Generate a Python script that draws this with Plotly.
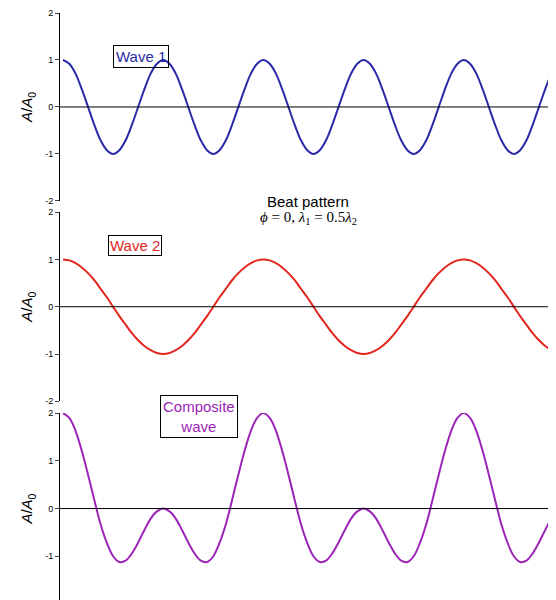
import plotly.graph_objects as go

x = [i * 0.0625 for i in range(81)]  # position in units of lambda_1
# one period of wave 1 sampled at 1/16 period
p16 = [1, .92, .71, .38, 0, -.38, -.71, -.92, -1, -.92, -.71, -.38, 0, .38, .71, .92]
# one period of wave 2 sampled at 1/32 period
p32 = [1, .98, .92, .83, .71, .56, .38, .20, 0, -.20, -.38, -.56, -.71, -.83, -.92, -.98,
       -1, -.98, -.92, -.83, -.71, -.56, -.38, -.20, 0, .20, .38, .56, .71, .83, .92, .98]
# one period of the composite wave
c32 = [2, 1.90, 1.63, 1.21, .71, .18, -.33, -.72, -1, -1.12, -1.09, -.94, -.71, -.45, -.21, -.06,
       0, -.06, -.21, -.45, -.71, -.94, -1.09, -1.12, -1, -.72, -.33, .18, .71, 1.21, 1.63, 1.90]
wave1 = p16 * 5 + [1]
wave2 = p32 * 2 + p32[:17]
composite = c32 * 2 + c32[:17]
ticks = [-2, -1, 0, 1, 2]
tick_labels = ["-2", "-1", "0", "1", "2"]

series = [(wave1, "#2a2aa8"), (wave2, "#e3261d"), (composite, "#9c25b8")]
domains = [(0.682, 1.0), (0.343, 0.663), (0.0, 0.323)]

fig = go.Figure()
for i, ((ys, col), dom) in enumerate(zip(series, domains)):
    n = "" if i == 0 else str(i + 1)
    fig.add_trace(go.Scatter(x=x, y=ys, mode="lines", line=dict(color=col, width=2, shape="spline"),
                             xaxis="x" + n, yaxis="y" + n, showlegend=False, hoverinfo="skip"))
    fig.add_shape(type="line", xref="x" + n + " domain", yref="y" + n, x0=0, x1=1, y0=0, y1=0,
                  line=dict(color="black", width=1))
    fig.layout["xaxis" + n] = dict(range=[-0.03, 5], visible=False, anchor="y" + n, automargin=False)
    fig.layout["yaxis" + n] = dict(domain=list(dom), range=[-2, 2], tickvals=ticks, ticktext=tick_labels,
                                   ticks="outside", ticklen=4, showline=True, linecolor="black",
                                   showgrid=False, zeroline=False, anchor="x" + n, automargin=False,
                                   tickfont=dict(size=9, color="black", family="Liberation Sans"),
                                   title=dict(text="<i>A</i>/<i>A</i><sub>0</sub>", standoff=8,
                                              font=dict(size=15, family="Liberation Sans", color="black")))

ann = [
    dict(x=105, y=37, text="Wave 1", font=dict(color="#2a2aa8", size=15), bordercolor="black", borderwidth=1, borderpad=2),
    dict(x=100, y=237, text="Wave 2", font=dict(color="#e3261d", size=15), bordercolor="black", borderwidth=1, borderpad=1, bgcolor="white"),
    dict(x=152, y=430, text="Composite<br>wave", font=dict(color="#9c25b8", size=15), bordercolor="black", borderwidth=1, borderpad=2),
    dict(x=300, y=183, text="Beat pattern", font=dict(color="black", size=15)),
    dict(x=300, y=210, text="<i>ϕ</i> = 0, <i>λ</i><sub>1</sub> = 0.5<i>λ</i><sub>2</sub>",
         font=dict(color="black", size=15, family="Liberation Serif")),
]
for a in ann:
    px, py = a.pop("x"), a.pop("y")
    fig.add_annotation(x=(px - 52) / 504, y=(596 - py) / 591, xref="paper", yref="paper",
                       showarrow=False, **a)

fig.update_layout(width=556, height=600, margin=dict(l=52, r=0, t=5, b=4, autoexpand=False),
                  paper_bgcolor="white", plot_bgcolor="white",
                  font=dict(family="Liberation Sans"))
fig.write_html("out.html")
